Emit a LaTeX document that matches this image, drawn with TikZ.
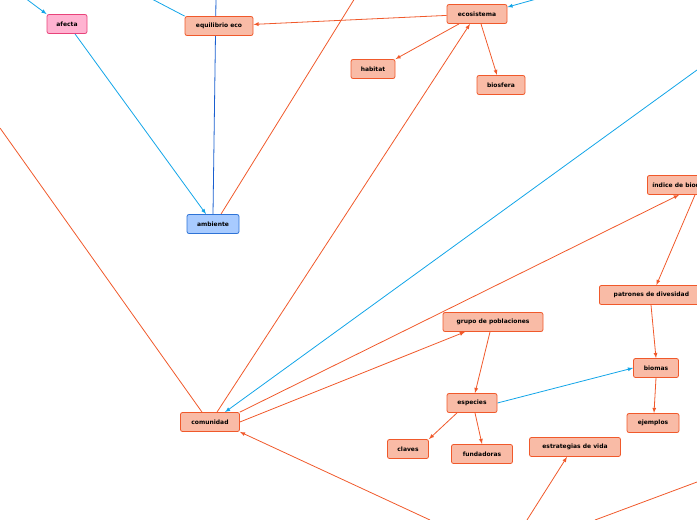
\documentclass[tikz,border=0pt]{standalone}
\usepackage{fontspec}
\setmainfont{DejaVu Sans}
\usetikzlibrary{backgrounds}
\begin{document}
\begin{tikzpicture}[x=1pt,y=-1pt,
 box/.style={draw=orl,fill=orf,rounded corners=2pt,line width=0.8pt,minimum height=19pt,inner xsep=5pt,font=\fontsize{6}{7}\selectfont\bfseries},
 pinkbox/.style={box,draw=pkl,fill=pkf},
 bluebox/.style={box,draw=bll,fill=blf},
 oa/.style={draw=orl,line width=0.8pt,-latex},
 ol/.style={draw=orl,line width=0.8pt},
 ba/.style={draw=cyl,line width=0.8pt,-latex},
 bl/.style={draw=cyl,line width=0.8pt}]
\definecolor{orl}{HTML}{F0592B}\definecolor{orf}{HTML}{F9BBA6}
\definecolor{pkl}{HTML}{E8437A}\definecolor{pkf}{HTML}{FFB3D1}
\definecolor{bll}{HTML}{2E73D6}\definecolor{blf}{HTML}{A8CBFF}
\definecolor{cyl}{HTML}{12A5E8}\definecolor{dbl}{HTML}{1A5FD0}
\useasboundingbox (0,0) rectangle (697,520);
\clip (0,0) rectangle (697,520);
\node[pinkbox,minimum width=40pt] (afecta) at (67,24) {afecta};
\node[box,minimum width=68pt] (equil) at (219,26) {equilibrio eco};
\node[box,minimum width=60pt] (eco) at (477,14) {ecosistema};
\node[box,minimum width=44pt] (habitat) at (373,69) {habitat};
\node[box,minimum width=48pt] (bios) at (501,85) {biosfera};
\node[bluebox,minimum width=52pt] (amb) at (213,224) {ambiente};
\node[box,anchor=west] (indice) at (647,185) {índice de biodiversidad};
\node[box,anchor=west,minimum width=104pt] (patr) at (599,295) {patrones de divesidad};
\node[box,minimum width=100pt] (grupo) at (493,322) {grupo de poblaciones};
\node[box,minimum width=50pt] (esp) at (472,403) {especies};
\node[box,minimum width=45pt] (biomas) at (656,368) {biomas};
\node[box,minimum width=52pt] (ejem) at (653,423) {ejemplos};
\node[box,minimum width=41pt] (claves) at (408,449) {claves};
\node[box,minimum width=61pt] (fund) at (482,454) {fundadoras};
\node[box,minimum width=91pt] (estr) at (575,447) {estrategias de vida};
\node[box,minimum width=59pt] (com) at (210,422) {comunidad};
\coordinate (c1) at (25,-2); \coordinate (c2) at (150,-2); \coordinate (c3) at (216,-2);
\coordinate (c4) at (355,-2); \coordinate (c5) at (540,-2); \coordinate (c6) at (0,128);
\coordinate (c7) at (697,70); \coordinate (c8) at (430,520); \coordinate (c9) at (527,520);
\coordinate (c10) at (595,520); \coordinate (c11) at (697,482);
\begin{scope}[on background layer]
\draw[ba] (c1) -- (afecta.north west);
\draw[bl] (c2) -- (equil.north west);
\draw[draw=dbl,line width=0.8pt] (c3) -- (amb.north);
\draw[ol] (c4) -- ([xshift=8pt]amb.north);
\draw[ba] (c5) -- ([yshift=-3pt]eco.north east);
\draw[oa] (eco) -- (equil);
\draw[oa] ([xshift=-18pt]eco.south) -- (habitat.north east);
\draw[oa] ([xshift=4pt]eco.south) -- ([xshift=-4pt]bios.north);
\draw[oa] ([xshift=7pt]com.north) -- ([xshift=-7pt]eco.south);
\draw[ba] (afecta.south) ++(8pt,0) -- ([xshift=-7pt]amb.north);
\draw[ol] (c6) -- ([xshift=-8pt]com.north);
\draw[ba] (c7) -- ([xshift=15pt]com.north);
\draw[oa] (com.north east) -- ([xshift=32pt]indice.south west);
\draw[oa] (com.east) -- ([xshift=-28pt]grupo.south);
\draw[oa] ([xshift=48pt]indice.south west) -- ([xshift=5pt]patr.north);
\draw[oa] ([xshift=52pt]patr.south west) -- (biomas.north);
\draw[oa] (biomas.south) -- ([xshift=1pt]ejem.north);
\draw[oa] ([xshift=-3pt]grupo.south) -- ([xshift=3pt]esp.north);
\draw[ba] (esp.east) -- (biomas.west);
\draw[oa] ([xshift=-15pt]esp.south) -- (claves.north east);
\draw[oa] ([xshift=3pt]esp.south) -- (fund.north);
\draw[oa] (c8) -- (com.south east);
\draw[oa] (c9) -- ([xshift=-8pt]estr.south);
\draw[ol] (c10) -- (c11);
\end{scope}
\end{tikzpicture}
\end{document}
